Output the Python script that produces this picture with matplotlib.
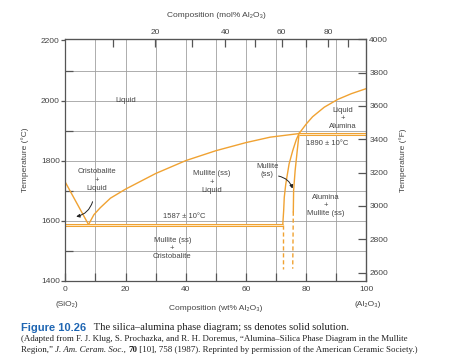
import matplotlib
matplotlib.use("Agg")
import matplotlib.pyplot as plt
import numpy as np

plt.rcParams['font.family'] = ['Liberation Sans', 'DejaVu Sans']

# ---- data (wt% Al2O3, degrees C) ----
silica_liq_wt = [0.0, 7.7]
silica_liq_T = [1728, 1587]

mullite_liq_wt = [7.7, 9.5, 11.6, 15, 20, 25, 30, 40, 50, 60, 68, 77.6]
mullite_liq_T = [1587, 1620, 1643, 1675, 1705, 1731, 1757, 1800, 1833, 1860, 1878, 1890]

alumina_liq_wt = [77.6, 80, 82.1, 86, 90.5, 95, 100]
alumina_liq_T = [1890, 1922, 1946, 1978, 2004, 2023, 2040]

mull_left_wt = [72.2, 72.5, 72.7, 73.2, 74.3, 75.5, 76.7, 77.6]
mull_left_T = [1587, 1634, 1678, 1722, 1789, 1833, 1870, 1890]
mull_left_dash_wt = [72.2, 72.2]
mull_left_dash_T = [1587, 1440]

mull_right_wt = [75.7, 75.8, 76.3, 77.0, 77.4, 77.6]
mull_right_T = [1630, 1700, 1766, 1833, 1870, 1890]
mull_right_dash_wt = [75.7, 75.5]
mull_right_dash_T = [1630, 1440]

eutectic_wt = [0.0, 72.2]
eutectic_T = [1587, 1587]
peritectic_wt = [77.6, 100.0]
peritectic_T = [1890, 1890]

# region labels: (text, wt%, T)
region_labels = [
    ("Liquid", 20, 2000),
    ("Cristobalite\n+\nLiquid", 10.5, 1735),
    ("Mullite (ss)\n+\nLiquid", 48.5, 1728),
    ("1587 \u00b1 10\u00b0C", 39.6, 1613),
    ("Mullite (ss)\n+\nCristobalite", 35.5, 1507),
    ("Mullite\n(ss)", 67.1, 1766),
    ("Alumina\n+\nMullite (ss)", 86.6, 1651),
    ("Liquid\n+\nAlumina", 92.1, 1941),
    ("1890 \u00b1 10\u00b0C", 86.9, 1858),
]
# arrows: (from wt, from T, to wt, to T)
arrows = [(9.3, 1672, 2.7, 1612), (69.9, 1750, 75.7, 1698)]

wt_ticks = [0, 20, 40, 60, 80, 100]
wt_minor = [10, 30, 50, 70, 90]
T_ticks = [1400, 1600, 1800, 2000, 2200]
T_minor = [1500, 1700, 1900, 2100]
F_ticks = [2600, 2800, 3000, 3200, 3400, 3600, 3800, 4000]
mol_ticks = [20, 40, 60, 80]
mol_minor = [10, 30, 50, 70, 90]

orange = "#F0A232"
pale = "#FCE7C4"
txt = "#444444"
gridc = "#a0a0a0"

M_AL = 101.96
M_SI = 60.08


def wt2mol(w):
    w = np.clip(np.asarray(w, dtype=float), 0, 100)
    a = w / M_AL
    s = (100 - w) / M_SI
    return 100 * a / (a + s)


def mol2wt(m):
    m = np.clip(np.asarray(m, dtype=float), 0, 100)
    a = m * M_AL
    s = (100 - m) * M_SI
    return 100 * a / (a + s)


def c2f(c):
    return np.asarray(c) * 9 / 5 + 32


def f2c(f):
    return (np.asarray(f) - 32) * 5 / 9


fig = plt.figure(figsize=(4.74, 3.63), dpi=100)
ax = fig.add_axes([0.1378, 0.2267, 0.6354, 0.6659])
ax.set_xlim(0, 100)
ax.set_ylim(1400, 2205)

# grid
for g in range(10, 100, 10):
    ax.axvline(g, color=gridc, lw=0.6, zorder=0)
for g in range(1500, 2200, 100):
    ax.axhline(g, color=gridc, lw=0.6, zorder=0)

# phase boundaries
lw = 1.0
ax.plot(silica_liq_wt, silica_liq_T, color=orange, lw=lw)
ax.plot(mullite_liq_wt, mullite_liq_T, color=orange, lw=lw)
ax.plot(alumina_liq_wt, alumina_liq_T, color=orange, lw=lw)
ax.plot(mull_left_wt, mull_left_T, color=orange, lw=lw)
ax.plot(mull_right_wt, mull_right_T, color=orange, lw=lw)
ax.plot(mull_left_dash_wt, mull_left_dash_T, color=orange, lw=lw, ls=(0, (3, 2)))
ax.plot(mull_right_dash_wt, mull_right_dash_T, color=orange, lw=lw, ls=(0, (3, 2)))
for xs, ys in [(eutectic_wt, eutectic_T), (peritectic_wt, peritectic_T)]:
    ax.plot(xs, ys, color=orange, lw=2.2, solid_capstyle='butt')
    ax.plot(xs, ys, color=pale, lw=0.7, solid_capstyle='butt')

for s, x, y in region_labels:
    ax.text(x, y, s, ha='center', va='center', fontsize=5.5, color=txt,
            linespacing=1.25)

for x0, y0, x1, y1 in arrows:
    ax.annotate("", xy=(x1, y1), xytext=(x0, y0),
                arrowprops=dict(arrowstyle='-|>', color='#222222', lw=0.7,
                                mutation_scale=5,
                                connectionstyle='arc3,rad=-0.35'))

# axes styling
for sp in ax.spines.values():
    sp.set_color('#555555')
    sp.set_linewidth(0.9)
ax.set_xticks(wt_ticks)
ax.set_xticks(wt_minor, minor=True)
ax.set_yticks(T_ticks)
ax.set_yticks(T_minor, minor=True)
ax.tick_params(axis='x', which='both', direction='in', length=6, width=0.9,
               color='#555555', labelsize=6, labelcolor=txt, pad=4)
ax.tick_params(axis='y', which='major', direction='out', length=3, width=0.9,
               color='#555555', labelsize=6, labelcolor=txt, pad=1)
ax.tick_params(axis='y', which='minor', direction='in', length=6, width=0.9,
               color='#555555')

sec_x = ax.secondary_xaxis('top', functions=(wt2mol, mol2wt))
sec_x.set_xticks(mol_ticks)
sec_x.set_xticks(mol_minor, minor=True)
sec_x.tick_params(axis='x', which='both', direction='in', length=6, width=0.9,
                  color='#555555', labelsize=6, labelcolor=txt, pad=2)
sec_x.spines['top'].set_color('#555555')

sec_y = ax.secondary_yaxis('right', functions=(c2f, f2c))
sec_y.set_yticks(F_ticks)
sec_y.tick_params(axis='y', which='both', direction='in', length=6, width=0.9,
                  color='#555555', labelsize=6, labelcolor=txt, pad=2)
sec_y.spines['right'].set_color('#555555')

# axis titles
fig.text(0.4557, 0.958, "Composition (mol% Al\u2082O\u2083)", ha='center', va='center',
         fontsize=6, color=txt)
fig.text(0.4557, 0.1515, "Composition (wt% Al\u2082O\u2083)", ha='center', va='center',
         fontsize=6, color=txt)
fig.text(0.1414, 0.1598, "(SiO\u2082)", ha='center', va='center', fontsize=6, color=txt)
fig.text(0.776, 0.1598, "(Al\u2082O\u2083)", ha='center', va='center', fontsize=6, color=txt)
fig.text(0.0527, 0.559, "Temperature (\u00b0C)", ha='center', va='center', rotation=90,
         fontsize=6, color=txt)
fig.text(0.850, 0.559, "Temperature (\u00b0F)", ha='center', va='center', rotation=90,
         fontsize=6, color=txt)

# caption
renderer = fig.canvas.get_renderer()
inv = fig.transFigure.inverted()


def put_pieces(x, y, pieces):
    for s, kw in pieces:
        t = fig.text(x, y, s, ha='left', va='center', **kw)
        bb = t.get_window_extent(renderer)
        x = inv.transform((bb.x1, bb.y0))[0]


serif = dict(family='Liberation Serif', color='#222222')
cap = 6.4
put_pieces(0.0437, 0.0972, [
    ("Figure 10.26", dict(fontsize=8, weight='bold', color='#1f66b3')),
    ("   The silica\u2013alumina phase diagram; ss denotes solid solution.",
     dict(fontsize=7.6, **serif)),
])
put_pieces(0.0437, 0.0661, [
    ("(Adapted from F. J. Klug, S. Prochazka, and R. H. Doremus, \u201cAlumina\u2013Silica "
     "Phase Diagram in the Mullite", dict(fontsize=cap, **serif)),
])
put_pieces(0.0437, 0.0358, [
    ("Region,\u201d ", dict(fontsize=cap, **serif)),
    ("J. Am. Ceram. Soc.,", dict(fontsize=cap, style='italic', **serif)),
    (" ", dict(fontsize=cap, **serif)),
    ("70", dict(fontsize=cap, weight='bold', **serif)),
    (" [10], 758 (1987). Reprinted by permission of the American Ceramic Society.)",
     dict(fontsize=cap, **serif)),
])

fig.savefig("out.png", dpi=100)
